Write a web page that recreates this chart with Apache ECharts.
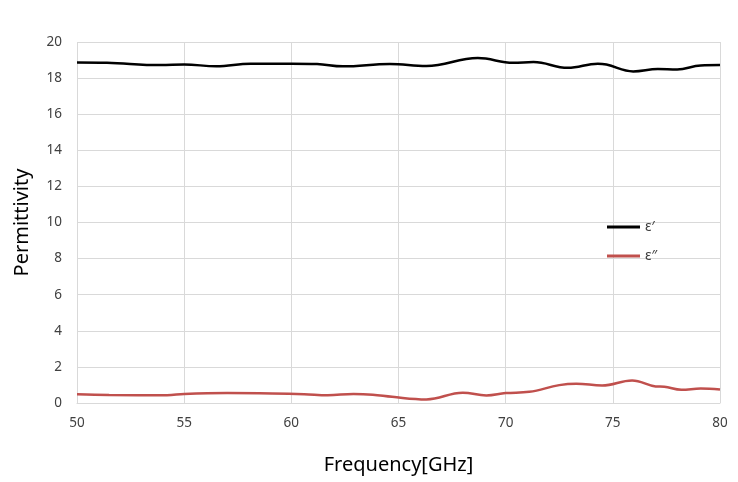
<!DOCTYPE html>
<html>
<head>
<meta charset="utf-8">
<script src="https://cdn.jsdelivr.net/npm/echarts@6/dist/echarts.min.js"></script>
<style>html,body{margin:0;padding:0;background:#fff;}#c{width:738px;height:482px;}</style>
</head>
<body>
<div id="c"></div>
<script>
const seriesNames = ['ε′', 'ε″'];
const freq1 = [50, 51.4, 53.9, 55, 56.5, 58.1, 60, 61.2, 62.4, 64.6, 66.3, 68.7, 70.35, 71.3, 72.9, 74.3, 74.7, 75.95, 77.1, 78.0, 79.1, 80];
const eps1  = [18.87, 18.85, 18.72, 18.76, 18.65, 18.8, 18.8, 18.78, 18.65, 18.78, 18.67, 19.11, 18.85, 18.89, 18.57, 18.8, 18.75, 18.37, 18.5, 18.48, 18.7, 18.72];
const freq2 = [50, 51.5, 54.2, 55, 57, 59.1, 60.6, 61.7, 62.9, 63.8, 64.7, 66.3, 68.0, 69.1, 70.0, 71.1, 72.5, 73.3, 74.5, 75.9, 77.0, 77.4, 78.2, 79.1, 80];
const eps2  = [0.49, 0.45, 0.43, 0.5, 0.55, 0.53, 0.49, 0.43, 0.5, 0.46, 0.34, 0.2, 0.57, 0.42, 0.55, 0.62, 0.99, 1.07, 0.97, 1.25, 0.92, 0.9, 0.73, 0.8, 0.75];

const pair = (xs, ys) => xs.map((x, i) => [x, ys[i]]);
const chart = echarts.init(document.getElementById('c'), null, {renderer: 'canvas'});
const font = '"Noto Sans", "Liberation Sans", sans-serif';
chart.setOption({
  animation: false,
  backgroundColor: '#fff',
  grid: {left: 77, right: 18, top: 42, bottom: 79, containLabel: false},
  legend: {
    orient: 'vertical', left: 607, top: 220, padding: 0, itemGap: 15, itemTextGap: 4,
    itemWidth: 33, itemHeight: 3, icon: 'rect',
    textStyle: {fontFamily: font, fontSize: 14, color: '#404040', lineHeight: 14},
    data: seriesNames
  },
  xAxis: {
    type: 'value', min: 50, max: 80, interval: 5,
    name: 'Frequency[GHz]', nameLocation: 'middle', nameGap: 52,
    nameTextStyle: {fontFamily: font, fontSize: 20, color: '#000'},
    axisLine: {show: true, lineStyle: {color: '#d9d9d9', width: 1}},
    axisTick: {show: false},
    axisLabel: {fontFamily: font, fontSize: 13.5, color: '#404040', margin: 13},
    splitLine: {show: true, lineStyle: {color: '#d9d9d9', width: 1}}
  },
  yAxis: {
    type: 'value', min: 0, max: 20, interval: 2,
    name: 'Permittivity', nameLocation: 'middle', nameGap: 45,
    nameTextStyle: {fontFamily: font, fontSize: 20, color: '#000'},
    axisLine: {show: false},
    axisTick: {show: false},
    axisLabel: {fontFamily: font, fontSize: 13.5, color: '#404040', margin: 15},
    splitLine: {show: true, lineStyle: {color: '#d9d9d9', width: 1}}
  },
  series: [
    {name: seriesNames[0], type: 'line', data: pair(freq1, eps1), smooth: 0.4, showSymbol: false,
     color: '#000000', lineStyle: {color: '#000000', width: 2.5}},
    {name: seriesNames[1], type: 'line', data: pair(freq2, eps2), smooth: 0.4, showSymbol: false,
     color: '#c0504d', lineStyle: {color: '#c0504d', width: 2.5}}
  ]
});
</script>
</body>
</html>
